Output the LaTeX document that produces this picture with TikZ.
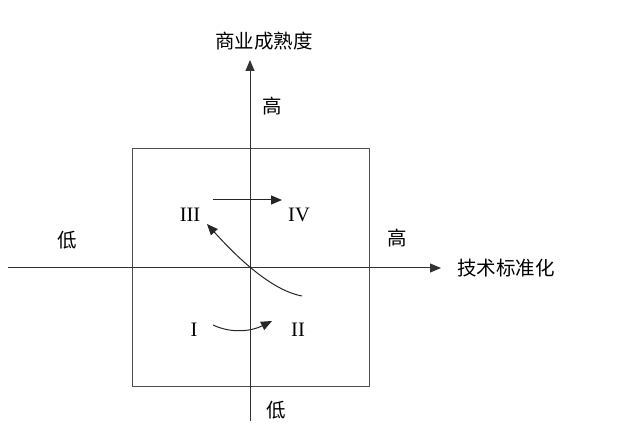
\documentclass[tikz,border=0pt]{standalone}
\usepackage{fontspec}
\usetikzlibrary{arrows.meta}
\setmainfont{Liberation Serif}
\newfontfamily\cjk{Noto Sans CJK SC}
\begin{document}
\begin{tikzpicture}[x=1pt, y=-1pt, line join=round,
  >={Triangle[length=11pt, width=9pt]},
  axis/.style={draw=black!80, line width=1pt},
  zh/.style={font=\cjk\fontsize{19.5}{22}\selectfont, inner sep=0pt},
  roman/.style={font=\fontsize{20.5}{24}\selectfont, inner sep=0pt},
  move/.style={->, draw=black!85, line width=1pt}]
\useasboundingbox (0,0) rectangle (640,438);
\draw[draw=black!70, line width=1pt] (132,149) rectangle (369,386);
\coordinate (ytop) at (250,60);
\coordinate (ybot) at (250,421);
\coordinate (xl) at (8,268);
\coordinate (xr) at (441,268);
\draw[axis,->] (ybot)--(ytop);
\draw[axis,->] (xl)--(xr);
\node[zh] (ylab) at (264,41) {商业成熟度};
\node[zh, right] (xlab) at (457,268) {技术标准化};
\node[zh] (yhi) at (272,106) {高};
\node[zh] (ylo) at (276,410) {低};
\node[zh] (xlo) at (67,240) {低};
\node[zh] (xhi) at (397,238) {高};
\node[roman] (q3) at (190,215) {III};
\node[roman] (q4) at (299,215) {IV};
\node[roman] (q1) at (194,330) {I};
\node[roman] (q2) at (298,330) {II};
\coordinate (s3) at (213,200);
\coordinate (e3) at (282,200);
\coordinate (s2) at (302,296);
\coordinate (e2) at (207,224);
\coordinate (s1) at (213,325);
\coordinate (e1) at (272,321);
\draw[move] (s3)--(e3);
\draw[move] (s2) .. controls (270,290) and (235,255) .. (e2);
\draw[move] (s1) .. controls (232,334) and (252,331) .. (e1);
\end{tikzpicture}
\end{document}
